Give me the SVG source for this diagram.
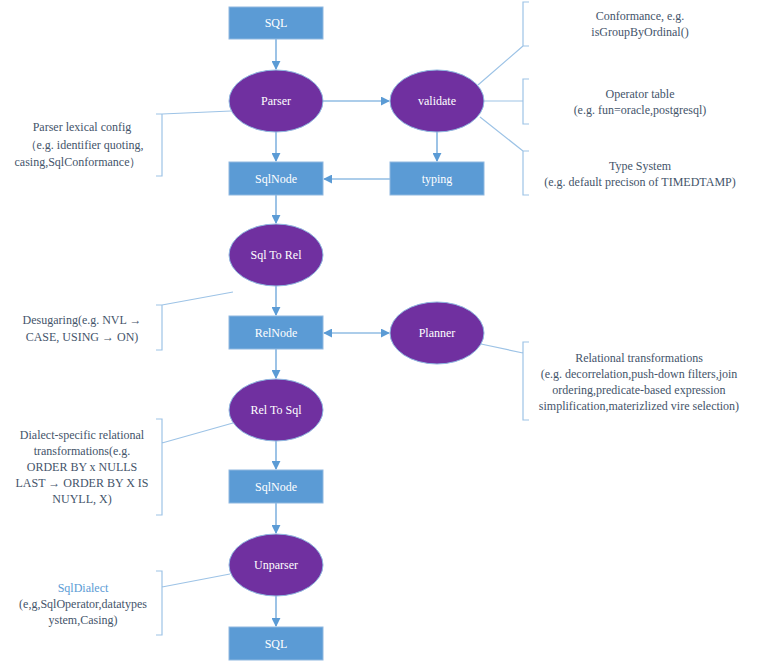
<svg xmlns="http://www.w3.org/2000/svg" width="759" height="672" viewBox="0 0 759 672">
<style>
.r{fill:#5b9bd5;stroke:#8fb8e0;stroke-width:1}
.e{fill:#7030a0;stroke:#8fb8e0;stroke-width:1}
.t{font-family:"Liberation Serif",serif;font-size:12px;fill:#fff;text-anchor:middle}
.a{font-family:"Liberation Serif",serif;font-size:12px;fill:#44546a;text-anchor:middle}
.b{fill:none;stroke:#9dc3e6;stroke-width:1.2}
.c{fill:none;stroke:#5b9bd5;stroke-width:1.2}
</style>
<defs>
<marker id="m" viewBox="0 0 10 10" refX="9" refY="5" markerWidth="9" markerHeight="9" orient="auto-start-reverse" markerUnits="userSpaceOnUse"><path d="M0,0L10,5L0,10z" fill="#5b9bd5"/></marker>
</defs>
<g id="connectors">
<path class="c" d="M276,39V69" marker-end="url(#m)"/>
<path class="c" d="M276,132V161" marker-end="url(#m)"/>
<path class="c" d="M323,101H389" marker-end="url(#m)"/>
<path class="c" d="M437,132V161" marker-end="url(#m)"/>
<path class="c" d="M390,179H324" marker-end="url(#m)"/>
<path class="c" d="M276,195V223" marker-end="url(#m)"/>
<path class="c" d="M276,286V315" marker-end="url(#m)"/>
<path class="c" d="M324,333H389" marker-start="url(#m)" marker-end="url(#m)"/>
<path class="c" d="M276,349V378" marker-end="url(#m)"/>
<path class="c" d="M276,441V469" marker-end="url(#m)"/>
<path class="c" d="M276,503V533" marker-end="url(#m)"/>
<path class="c" d="M276,596V626" marker-end="url(#m)"/>
<path class="b" d="M156,114H162V176H156M162,114L231,111"/>
<path class="b" d="M156,305H162V350H156M162,305L233,292"/>
<path class="b" d="M156,419H162V515H156M162,443L233,423"/>
<path class="b" d="M156,571H162V635H156M162,587L230,574"/>
<path class="b" d="M529,2H523V46H529M523,46L478,85"/>
<path class="b" d="M529,79H523V124H529M484,101H523"/>
<path class="b" d="M529,151H523V195H529M480,117L523,151"/>
<path class="b" d="M529,342H523V420H529M481,344L523,353"/>
</g>
<g id="sql1"><rect class="r" x="229" y="7" width="94" height="32"/><text class="t" x="276" y="27">SQL</text></g>
<g id="parser"><ellipse class="e" cx="276" cy="101" rx="47" ry="31"/><text class="t" x="276" y="105">Parser</text></g>
<g id="validate"><ellipse class="e" cx="437" cy="101" rx="47" ry="31"/><text class="t" x="437" y="105">validate</text></g>
<g id="sqlnode1"><rect class="r" x="229" y="162" width="94" height="33"/><text class="t" x="276" y="183">SqlNode</text></g>
<g id="typing"><rect class="r" x="390" y="162" width="94" height="33"/><text class="t" x="437" y="183">typing</text></g>
<g id="sqltorel"><ellipse class="e" cx="276" cy="255" rx="47" ry="31"/><text class="t" x="276" y="259">Sql To Rel</text></g>
<g id="relnode"><rect class="r" x="229" y="316" width="94" height="33"/><text class="t" x="276" y="337">RelNode</text></g>
<g id="planner"><ellipse class="e" cx="437" cy="333" rx="47" ry="31"/><text class="t" x="437" y="337">Planner</text></g>
<g id="reltosql"><ellipse class="e" cx="276" cy="410" rx="47" ry="31"/><text class="t" x="276" y="414">Rel To Sql</text></g>
<g id="sqlnode2"><rect class="r" x="229" y="470" width="94" height="33"/><text class="t" x="276" y="491">SqlNode</text></g>
<g id="unparser"><ellipse class="e" cx="276" cy="565" rx="47" ry="31"/><text class="t" x="276" y="569">Unparser</text></g>
<g id="sql2"><rect class="r" x="229" y="627" width="94" height="33"/><text class="t" x="276" y="648">SQL</text></g>
<g id="notes">
<text class="a" x="82" y="131">Parser lexical config</text>
<text class="a" x="84" y="149">（e.g. identifier quoting,</text>
<text class="a" x="78" y="166">casing,SqlConformance）</text>
<text class="a" x="82" y="324">Desugaring(e.g. NVL → </text>
<text class="a" x="82" y="341">CASE, USING → ON)</text>
<text class="a" x="82" y="439">Dialect-specific relational</text>
<text class="a" x="82" y="455">transformations(e.g.</text>
<text class="a" x="82" y="471">ORDER BY  x NULLS</text>
<text class="a" x="82" y="487">LAST → ORDER BY X IS</text>
<text class="a" x="82" y="503">NUYLL, X)</text>
<text class="a" x="83" y="592" style="fill:#5b9bd5">SqlDialect</text>
<text class="a" x="83" y="608">(e,g,SqlOperator,datatypes</text>
<text class="a" x="83" y="624">ystem,Casing)</text>
<text class="a" x="640" y="20">Conformance, e.g.</text>
<text class="a" x="640" y="36">isGroupByOrdinal()</text>
<text class="a" x="640" y="98">Operator table</text>
<text class="a" x="640" y="114">(e.g. fun=oracle,postgresql)</text>
<text class="a" x="640" y="170">Type System</text>
<text class="a" x="640" y="186">(e.g. default precison of TIMEDTAMP)</text>
<text class="a" x="639" y="362">Relational transformations</text>
<text class="a" x="639" y="378">(e.g. decorrelation,push-down filters,join</text>
<text class="a" x="639" y="394">ordering,predicate-based expression</text>
<text class="a" x="639" y="410">simplification,materizlized vire selection)</text>
</g>
</svg>
